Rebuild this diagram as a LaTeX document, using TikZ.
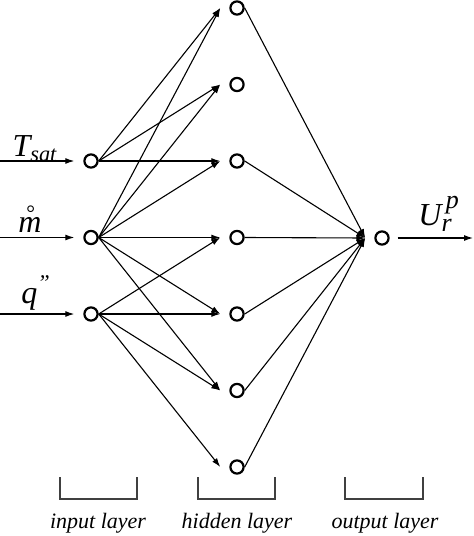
\documentclass[tikz,border=0pt]{standalone}
\usepackage{fontspec}
\setmainfont{Liberation Serif}
\usetikzlibrary{arrows.meta}
\tikzstyle{neuron}=[circle,draw,line width=1.1pt,minimum size=6.6pt,inner sep=0pt]
\tikzstyle{conn}=[-{Latex[length=4.5pt,width=3pt]},line width=0.55pt]
\tikzstyle{lbl}=[font=\fontsize{16}{18}\selectfont\itshape,inner sep=0pt,anchor=base]
\tikzstyle{layer}=[font=\fontsize{11}{13}\selectfont\itshape,inner sep=0pt,anchor=base]
\tikzstyle{brk}=[draw=black!75,line width=0.6pt]
\def\tip#1{([xshift=-4.5pt]#1.west)}
\begin{document}
\begin{tikzpicture}[x=0.5pt,y=-0.5pt]
    \useasboundingbox (0,0) rectangle (474,536);
    % neurons
    \node[neuron] (in1) at (91,161) {};
    \node[neuron] (in2) at (91,237.5) {};
    \node[neuron] (in3) at (91,314) {};
    \foreach \i/\y in {1/8,2/84.5,3/161,4/237.5,5/314,6/390.5,7/467}
      \node[neuron] (h\i) at (237,\y) {};
    \node[neuron] (out) at (382,238) {};
    % inputs and output
    \coordinate (s1) at (0,161);
    \coordinate (s2) at (0,237.5);
    \coordinate (s3) at (0,314);
    \coordinate (e) at (473,238);
    \foreach \i in {1,2,3}
      \draw[conn] (s\i) -- \tip{in\i};
    \draw[conn,shorten <=4pt] (out.east) -- (e);
    % weights
    \foreach \a/\b in {in1/h1,in1/h2,in1/h3,in2/h1,in2/h2,in2/h3,in2/h4,in2/h5,in2/h6,in3/h4,in3/h5,in3/h6,in3/h7}
      \draw[conn] (\a.east) -- \tip{\b};
    \foreach \i in {1,3,4,5,6,7}
      \draw[conn] (h\i.east) -- \tip{out};
    % labels
    \node[lbl] (tsat) at (35,156) {T\textsubscript{sat}};
    \node[lbl] (mdot) at (30,232) {\rlap{\hspace{3.6pt}\raisebox{6pt}{\fontsize{11}{11}\selectfont °}}m};
    \node[lbl] (qflux) at (36,303) {q\textsuperscript{''}};
    \node[lbl,anchor=base west] (urp) at (418,225) {U\makebox[0pt][l]{\raisebox{-0.45ex}{\fontsize{13}{13}\selectfont r}}\raisebox{1.1ex}{\fontsize{13}{13}\selectfont\,p}};
    % layer brackets
    \draw[brk] (60,477) -- (60,499) -- (137,499) -- (137,477);
    \draw[brk] (198,477) -- (198,499) -- (275,499) -- (275,477);
    \draw[brk] (345,477) -- (345,499) -- (423,499) -- (423,477);
    \node[layer] (linput) at (98,528) {input layer};
    \node[layer] (lhidden) at (237,528) {hidden layer};
    \node[layer] (loutput) at (385,528) {output layer};
\end{tikzpicture}
\end{document}
